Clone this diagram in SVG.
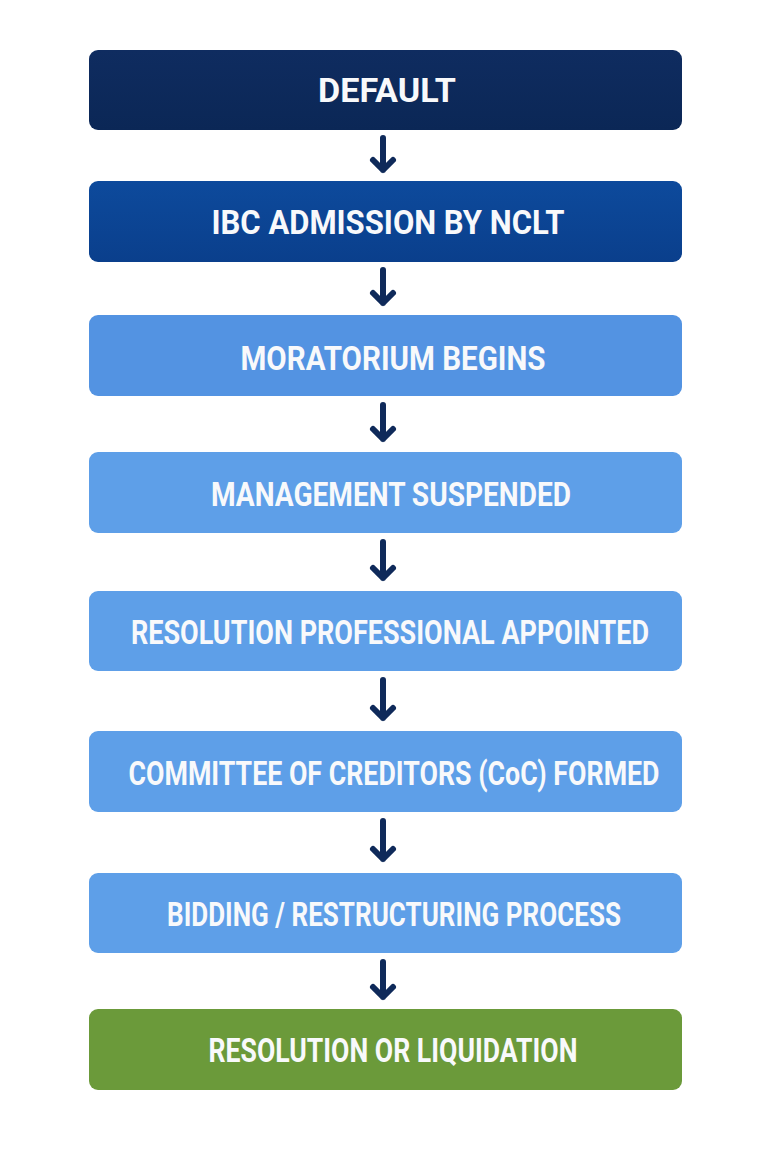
<svg xmlns="http://www.w3.org/2000/svg" width="768" height="1152" viewBox="0 0 768 1152">
<defs>
<style>
.lbl{font-family:Roboto,"Liberation Sans",sans-serif;font-weight:bold;font-size:33px;fill:#f8f9fb;text-anchor:middle}
.arr{stroke:#0f2a5a;stroke-width:6;fill:none;stroke-linecap:round;stroke-linejoin:round}
</style>
<linearGradient id="g1" x1="0" y1="0" x2="0" y2="1"><stop offset="0" stop-color="#0f2c60"/><stop offset="1" stop-color="#0b2756"/></linearGradient>
<linearGradient id="g2" x1="0" y1="0" x2="0" y2="1"><stop offset="0" stop-color="#0d4a9c"/><stop offset="1" stop-color="#0a3f8c"/></linearGradient>
</defs>
<rect width="768" height="1152" fill="#ffffff"/>
<g id="connectors">
<path class="arr" d="M383 138V170M373 160L383 170L393 160"/>
<path class="arr" d="M383 270V303M373 293L383 303L393 293"/>
<path class="arr" d="M383 405V439M373 429L383 439L393 429"/>
<path class="arr" d="M383 542V578M373 568L383 578L393 568"/>
<path class="arr" d="M383 680V718M373 708L383 718L393 708"/>
<path class="arr" d="M383 821V859M373 849L383 859L393 849"/>
<path class="arr" d="M383 962V997M373 987L383 997L393 987"/>
</g>
<g id="n1"><rect x="89" y="50" width="593" height="80" rx="9" fill="url(#g1)"/><text class="lbl" x="387" y="102" textLength="138" lengthAdjust="spacingAndGlyphs">DEFAULT</text></g>
<g id="n2"><rect x="89" y="181" width="593" height="81" rx="9" fill="url(#g2)"/><text class="lbl" x="388" y="234" textLength="353" lengthAdjust="spacingAndGlyphs">IBC ADMISSION BY NCLT</text></g>
<g id="n3"><rect x="89" y="315" width="593" height="81" rx="9" fill="#5393e2"/><text class="lbl" x="393" y="370" textLength="305" lengthAdjust="spacingAndGlyphs">MORATORIUM BEGINS</text></g>
<g id="n4"><rect x="89" y="452" width="593" height="81" rx="9" fill="#5e9fe8"/><text class="lbl" x="391" y="506" textLength="360" lengthAdjust="spacingAndGlyphs">MANAGEMENT SUSPENDED</text></g>
<g id="n5"><rect x="89" y="591" width="593" height="80" rx="9" fill="#5e9fe8"/><text class="lbl" x="390" y="644" textLength="518" lengthAdjust="spacingAndGlyphs">RESOLUTION PROFESSIONAL APPOINTED</text></g>
<g id="n6"><rect x="89" y="731" width="593" height="81" rx="9" fill="#5e9fe8"/><text class="lbl" x="394" y="785" textLength="531" lengthAdjust="spacingAndGlyphs">COMMITTEE OF CREDITORS (CoC) FORMED</text></g>
<g id="n7"><rect x="89" y="873" width="593" height="80" rx="9" fill="#5e9fe8"/><text class="lbl" x="394" y="926" textLength="454" lengthAdjust="spacingAndGlyphs">BIDDING / RESTRUCTURING PROCESS</text></g>
<g id="n8"><rect x="89" y="1009" width="593" height="81" rx="9" fill="#6b9a3a"/><text class="lbl" x="393" y="1062" textLength="369" lengthAdjust="spacingAndGlyphs">RESOLUTION OR LIQUIDATION</text></g>
</svg>
